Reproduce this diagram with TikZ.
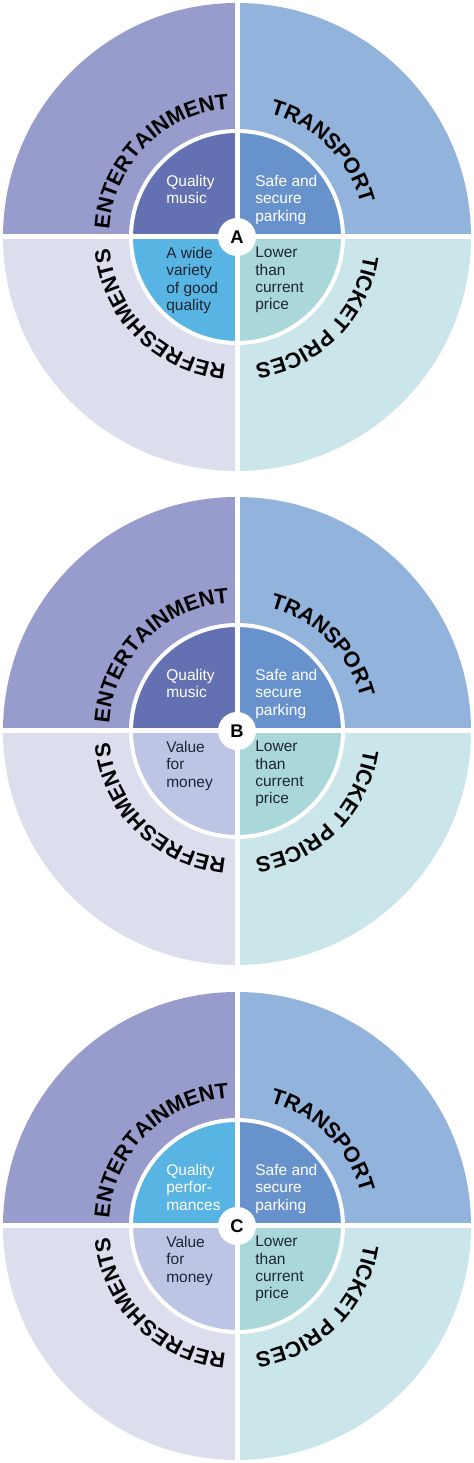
\documentclass[tikz,border=0pt]{standalone}
\usepackage{fontspec}
\setmainfont{Liberation Sans}
\usetikzlibrary{decorations.text}

\definecolor{entouter}{HTML}{979CCC}
\definecolor{traouter}{HTML}{92B4DC}
\definecolor{refouter}{HTML}{DCDEEE}
\definecolor{tckouter}{HTML}{CBE6EB}
\definecolor{musicin}{HTML}{6370B2}
\definecolor{parkin}{HTML}{6892CC}
\definecolor{skyin}{HTML}{58B4E2}
\definecolor{pricein}{HTML}{AAD8DA}
\definecolor{valuein}{HTML}{BEC4E4}
\definecolor{inkdark}{HTML}{1E2535}

\newcommand{\ringfont}{\fontsize{13}{15}\selectfont\bfseries}

\tikzset{
  hub/.style={circle, fill=white, minimum size=22.8pt, inner sep=0pt,
    font=\fontsize{11}{12}\selectfont\bfseries},
  cell/.style={anchor=north west, inner sep=0pt, align=left,
    font=\fontsize{9.3}{10.4}\selectfont},
  ringtext/.style={decorate, decoration={text along path, text align=center,
    text={|\ringfont|#1}}},
}

\begin{document}
\begin{tikzpicture}[x=0.6pt, y=0.6pt]
    \useasboundingbox (0,0) rectangle (474,1463);
    \fill[white] (0,0) rectangle (474,1463);
    \foreach \lab/\cy/\ulfill/\ultext/\llfill/\lltext in {
        A/1226/musicin/{Quality\\music}/skyin/{A wide\\variety\\of good\\quality},
        B/732/musicin/{Quality\\music}/valuein/{Value\\for\\money},
        C/237/skyin/{Quality\\perfor-\\mances}/valuein/{Value\\for\\money}}{
      \begin{scope}[shift={(237,\cy)}]
        % outer ring
        \fill[entouter] (0,0) -- (180:234) arc[start angle=180, end angle=90, radius=234] -- cycle;
        \fill[traouter] (0,0) -- (90:234) arc[start angle=90, end angle=0, radius=234] -- cycle;
        \fill[tckouter] (0,0) -- (0:234) arc[start angle=0, end angle=-90, radius=234] -- cycle;
        \fill[refouter] (0,0) -- (-90:234) arc[start angle=-90, end angle=-180, radius=234] -- cycle;
        % inner disc
        \fill[\ulfill] (0,0) -- (180:106) arc[start angle=180, end angle=90, radius=106] -- cycle;
        \fill[parkin] (0,0) -- (90:106) arc[start angle=90, end angle=0, radius=106] -- cycle;
        \fill[pricein] (0,0) -- (0:106) arc[start angle=0, end angle=-90, radius=106] -- cycle;
        \fill[\llfill] (0,0) -- (-90:106) arc[start angle=-90, end angle=-180, radius=106] -- cycle;
        \draw[white, line width=2.4pt] (0,0) circle[radius=106];
        \draw[white, line width=3pt] (-236,0) -- (236,0) (0,-236) -- (0,236);
        \node[hub] (hub\lab) at (0,0) {\lab};
        \node[cell, text=white] (ul\lab) at (-71,62) {\ultext};
        \node[cell, text=white] (ur\lab) at (18,62) {Safe and\\secure\\parking};
        \node[cell, text=inkdark] (ll\lab) at (-71,-10) {\lltext};
        \node[cell, text=inkdark] (lr\lab) at (18,-10) {Lower\\than\\current\\price};
        % ring labels
        \path[ringtext=ENTERTAINMENT] (180:128) arc[start angle=180, end angle=90, radius=128];
        \path[ringtext=TRANSPORT] (90:128) arc[start angle=90, end angle=0, radius=128];
        \path[ringtext=TICKET PRICES] (0:128) arc[start angle=0, end angle=-90, radius=128];
        \path[ringtext=REFRESHMENTS] (-90:128) arc[start angle=-90, end angle=-180, radius=128];
      \end{scope}
    }
\end{tikzpicture}
\end{document}
